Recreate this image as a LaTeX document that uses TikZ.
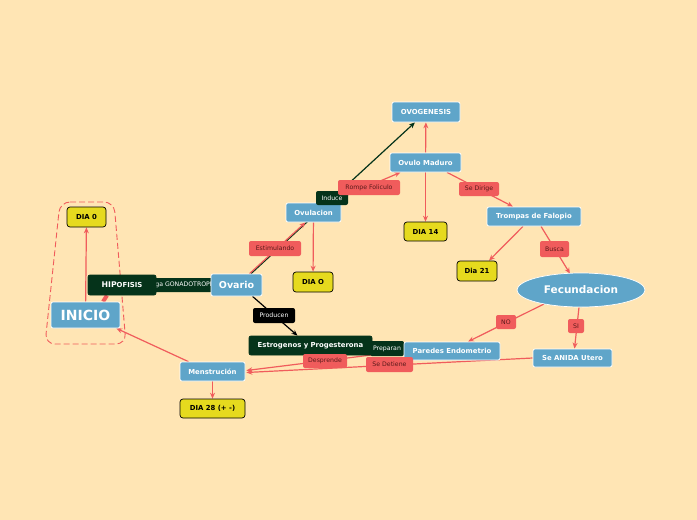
\documentclass[tikz,border=0pt]{standalone}
\usepackage{fontspec}
\setmainfont{DejaVu Sans}
\usetikzlibrary{arrows.meta,shapes.geometric,calc}
\definecolor{bgc}{HTML}{FFE5B4}
\definecolor{cblue}{HTML}{5FA5C9}
\definecolor{cred}{HTML}{F05C5C}
\definecolor{cgreen}{HTML}{05331A}
\definecolor{cyellow}{HTML}{E6DA1E}
\definecolor{clabtxt}{HTML}{5A1A1A}
\pgfdeclarelayer{bg}
\pgfdeclarelayer{mid}
\pgfsetlayers{bg,mid,main}
\tikzset{
  bluebox/.style={draw=white, line width=0.7pt, fill=cblue, rounded corners=2pt, text=white,
    font=\fontsize{6.9}{8}\selectfont\bfseries, inner sep=0pt},
  daybox/.style={draw=black, line width=0.7pt, fill=cyellow, rounded corners=3pt, text=black,
    font=\fontsize{6.9}{8}\selectfont\bfseries, inner sep=0pt},
  redlab/.style={fill=cred, rounded corners=2pt, text=clabtxt,
    font=\fontsize{6.2}{7}\selectfont, inner sep=0pt},
  greenlab/.style={fill=cgreen, rounded corners=2pt, text=white,
    font=\fontsize{6.2}{7}\selectfont, inner sep=0pt},
  blacklab/.style={fill=black, rounded corners=2pt, text=white,
    font=\fontsize{6.2}{7}\selectfont, inner sep=0pt},
  conn/.style={draw=cred, line width=1.2pt, -{Stealth[length=6pt,width=5pt]}},
  gconn/.style={draw=cgreen, line width=1.2pt, -{Stealth[length=6pt,width=5pt]}},
  kconn/.style={draw=black, line width=1.2pt, -{Stealth[length=6pt,width=5pt]}},
}
\begin{document}
\begin{tikzpicture}[x=1pt,y=-1pt]
\begin{pgfonlayer}{bg}
\fill[bgc] (0,0) rectangle (697,520);
\end{pgfonlayer}
\useasboundingbox (0,0) rectangle (697,520);

% main nodes
\node[bluebox, minimum width=69pt, minimum height=26pt, font=\fontsize{14}{16}\selectfont\bfseries] (inicio) at (85.5,315) {INICIO};
\node[daybox, minimum width=39pt, minimum height=20pt] (dia0) at (86.5,217) {DIA 0};
\node[bluebox, draw=cgreen, fill=cgreen, minimum width=68pt, minimum height=20pt] (hipo) at (122,285) {{\fontsize{7.8}{9}\selectfont HIP}OFISIS};
\node[bluebox, minimum width=51pt, minimum height=22pt, font=\fontsize{9.5}{11}\selectfont\bfseries] (ovario) at (236.5,285) {Ovario};
\node[bluebox, minimum width=55pt, minimum height=19pt] (ovul) at (313.5,212.5) {Ovulacion};
\node[daybox, minimum width=40pt, minimum height=20pt] (diao) at (313,282) {DIA O};
\node[bluebox, draw=cgreen, fill=cgreen, minimum width=123pt, minimum height=19pt] (estr) at (310.5,345.5) {Estrogenos y Progesterona};
\node[bluebox, minimum width=96pt, minimum height=18pt] (par) at (452,351) {Paredes Endometrio};
\node[bluebox, minimum width=68pt, minimum height=20pt] (ovog) at (426,112) {OVOGENESIS};
\node[bluebox, minimum width=71pt, minimum height=19pt] (ovm) at (425.5,162.5) {Ovulo Maduro};
\node[daybox, minimum width=43pt, minimum height=19pt] (dia14) at (425.5,231.5) {DIA 14};
\node[bluebox, minimum width=94pt, minimum height=19pt] (tromp) at (534,216.5) {Trompas de Falopio};
\node[daybox, minimum width=40pt, minimum height=20pt] (dia21) at (477,271) {Dia 21};
\node[ellipse, draw=white, line width=0.7pt, fill=cblue, text=white, inner sep=0pt,
  minimum width=128pt, minimum height=34pt, font=\fontsize{10.5}{12}\selectfont\bfseries] (fec) at (581,290) {Fecundacion};
\node[bluebox, minimum width=79pt, minimum height=18pt] (anida) at (572.5,358) {Se ANIDA Utero};
\node[bluebox, minimum width=65pt, minimum height=19pt] (men) at (212.5,371.5) {Menstruci\'on};
\node[daybox, minimum width=65pt, minimum height=19pt] (dia28) at (212.5,408.5) {DIA 28 (+ -)};

% labels
\begin{pgfonlayer}{mid}
\node[greenlab, minimum width=108pt, minimum height=14pt] (lgona) at (181,285) {Segrega GONADOTROPINAS};
\node[greenlab, minimum width=34pt, minimum height=15pt] (lprep) at (387,348.5) {Preparan};
\end{pgfonlayer}
\node[redlab, minimum width=52pt, minimum height=15pt] (lestim) at (275,248.5) {Estimulando};
\node[greenlab, minimum width=32pt, minimum height=14pt] (linduce) at (332,198) {Induce};
\node[redlab, minimum width=62pt, minimum height=15pt] (lrompe) at (369,187.5) {Rompe Foliculo};
\node[redlab, minimum width=40pt, minimum height=14pt] (ldirige) at (479,189) {Se Dirige};
\node[redlab, minimum width=29pt, minimum height=16pt] (lbusca) at (554.5,249) {Busca};
\node[redlab, minimum width=20pt, minimum height=14pt] (lno) at (506,322) {NO};
\node[redlab, minimum width=16pt, minimum height=14pt] (lsi) at (576,326) {SI};
\node[blacklab, minimum width=42pt, minimum height=15pt] (lprod) at (274,315.5) {Producen};
\node[redlab, minimum width=44pt, minimum height=14pt] (ldespr) at (325,361) {Desprende};
\node[redlab, minimum width=47pt, minimum height=15pt] (ldet) at (389.5,364.5) {Se Detiene};

% connectors
\begin{pgfonlayer}{bg}
\draw[cred, dashed, dash pattern=on 6pt off 3pt, line width=0.9pt, rounded corners=10pt]
  (60,202) -- (114,202) -- (126,344) -- (45,344) -- cycle;
\draw[conn] (inicio) -- (dia0);
\draw[cred, line width=4pt] ($(inicio.north)+(17.5,0)$) to[bend left=10] ($(hipo.south)+(-15,0)$);
\draw[gconn] (hipo) -- (ovario);
\draw[gconn] ($(ovario.north)+(14.5,0)$) -- ($(ovog.south)+(-11,0)$);
\draw[conn] ($(ovario.north)+(13,0)$) -- ($(ovul.south)+(-8,0)$);
\draw[conn] (ovul) -- (diao);
\draw[conn] ($(ovul.north)+(16,0)$) -- ($(ovm.south)+(-25,0)$);
\draw[conn] (ovm) -- (ovog);
\draw[conn] (ovm) -- (dia14);
\draw[conn] ($(ovm.south)+(21.5,0)$) -- ($(tromp.north)+(-21,0)$);
\draw[conn] ($(tromp.south)+(-11,0)$) -- ($(dia21.north)+(12,0)$);
\draw[conn] ($(tromp.south)+(7,0)$) -- ($(fec.north)+(-11,1)$);
\draw[conn] ($(fec.center)+(-37,14)$) -- ($(par.north)+(16,0)$);
\draw[conn] ($(fec.south)+(-2,0)$) -- ($(anida.north)+(2,0)$);
\draw[gconn, -] (estr) -- (par);
\draw[kconn] ($(ovario.south)+(16,0)$) -- ($(estr.north)+(-13,0)$);
\draw[conn] (par.west) -- ($(men.east)+(1,-1)$);
\draw[conn] (anida.west) -- ($(men.east)+(1,1)$);
\draw[conn] (men) -- (dia28);
\draw[conn] ($(men.north)+(-24,0)$) -- ($(inicio.south east)+(-4,0)$);
\end{pgfonlayer}
\end{tikzpicture}
\end{document}
